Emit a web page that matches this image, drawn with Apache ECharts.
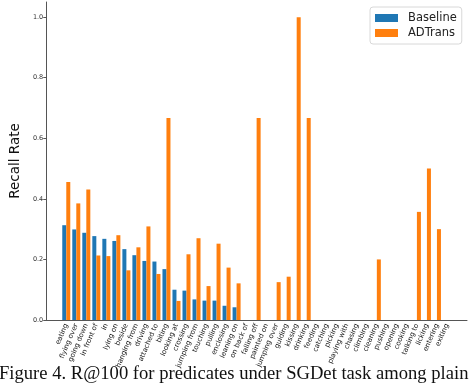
<!DOCTYPE html>
<html>
<head>
<meta charset="utf-8">
<script src="https://cdn.jsdelivr.net/npm/echarts@6/dist/echarts.min.js"></script>
<style>
html,body{margin:0;padding:0;background:#fff;}
#chart{width:474px;height:389px;}
</style>
</head>
<body>
<div id="chart"></div>
<script>
const categories = ['eating','flying over','going down','in front of','in','lying on','beside','hanging from','driving','attached to','biting','looking at','crossing','jumping from','touching','pulling','enclosing','leaning on','on back of','falling off','painted on','jumping over','guiding','kissing','drinking','feeding','catching','picking','playing with','chasing','climbing','cleaning','pushing','opening','cooking','talking to','licking','entering','exiting'];
const baseline = [0.313,0.299,0.288,0.277,0.268,0.261,0.234,0.214,0.195,0.193,0.168,0.100,0.097,0.068,0.064,0.064,0.047,0.042,0,0,0,0,0,0,0,0,0,0,0,0,0,0,0,0,0,0,0,0,0];
const adtrans = [0.456,0.385,0.431,0.213,0.211,0.280,0.164,0.240,0.309,0.152,0.667,0.063,0.217,0.270,0.112,0.252,0.173,0.121,0,0.667,0,0.125,0.143,1.0,0.667,0,0,0,0,0,0,0.2,0,0,0,0.357,0.5,0.3,0];
const yTicks = [0,0.2,0.4,0.6,0.8,1.0];
const seriesNames = ['Baseline','ADTrans'];
const caption = 'Figure 4. R@100 for predicates under SGDet task among plain';

const pad = 2;
const padCats = Array(pad).fill('');
const cats = padCats.concat(categories, padCats);
const padVals = Array(pad).fill(null);
const toData = a => padVals.concat(a.map(v => v === 0 ? null : v), padVals);

const chart = echarts.init(document.getElementById('chart'), null, {renderer:'canvas'});
chart.setOption({
  animation:false,
  backgroundColor:'#fff',
  textStyle:{fontFamily:'DejaVu Sans'},
  grid:{left:25, right:7, top:2, bottom:69, containLabel:false},
  legend:{
    orient:'vertical', left:370, top:7,
    data:seriesNames,
    itemWidth:23, itemHeight:8, itemGap:3,
    padding:[5,5,5,5],
    backgroundColor:'#fff', borderColor:'#d8d8d8', borderWidth:1, borderRadius:3,
    icon:'rect',
    textStyle:{fontFamily:'DejaVu Sans', fontSize:11.5, color:'#222', padding:[0,0,0,5]}
  },
  xAxis:{
    type:'category', data:cats, boundaryGap:false,
    axisLine:{lineStyle:{color:'#555', width:1}},
    axisTick:{show:false},
    axisLabel:{interval:0, rotate:67, fontSize:7, color:'#222', margin:4, fontFamily:'DejaVu Sans'},
    splitLine:{show:false}
  },
  yAxis:{
    type:'value', min:0, max:1.05,
    name:'Recall Rate', nameLocation:'middle', nameGap:12,
    nameTextStyle:{fontSize:13.5, color:'#111', fontFamily:'DejaVu Sans'},
    axisLine:{show:true, lineStyle:{color:'#555', width:1}},
    axisTick:{show:true, length:3, customValues:yTicks, lineStyle:{color:'#555'}},
    axisLabel:{customValues:yTicks, fontSize:6.5, color:'#333', margin:3, formatter:v=>v.toFixed(1)},
    splitLine:{show:false}
  },
  series:[
    {name:seriesNames[0], type:'bar', data:toData(baseline), barWidth:'40%', barGap:'0%', itemStyle:{color:'#1f77b4'}},
    {name:seriesNames[1], type:'bar', data:toData(adtrans), barWidth:'40%', barGap:'0%', itemStyle:{color:'#ff7f0e'}}
  ],
  graphic:[{
    type:'text', left:-1, top:365,
    style:{text:caption, font:'18.6px "Liberation Serif"', fill:'#111'}
  }]
});
</script>
</body>
</html>
